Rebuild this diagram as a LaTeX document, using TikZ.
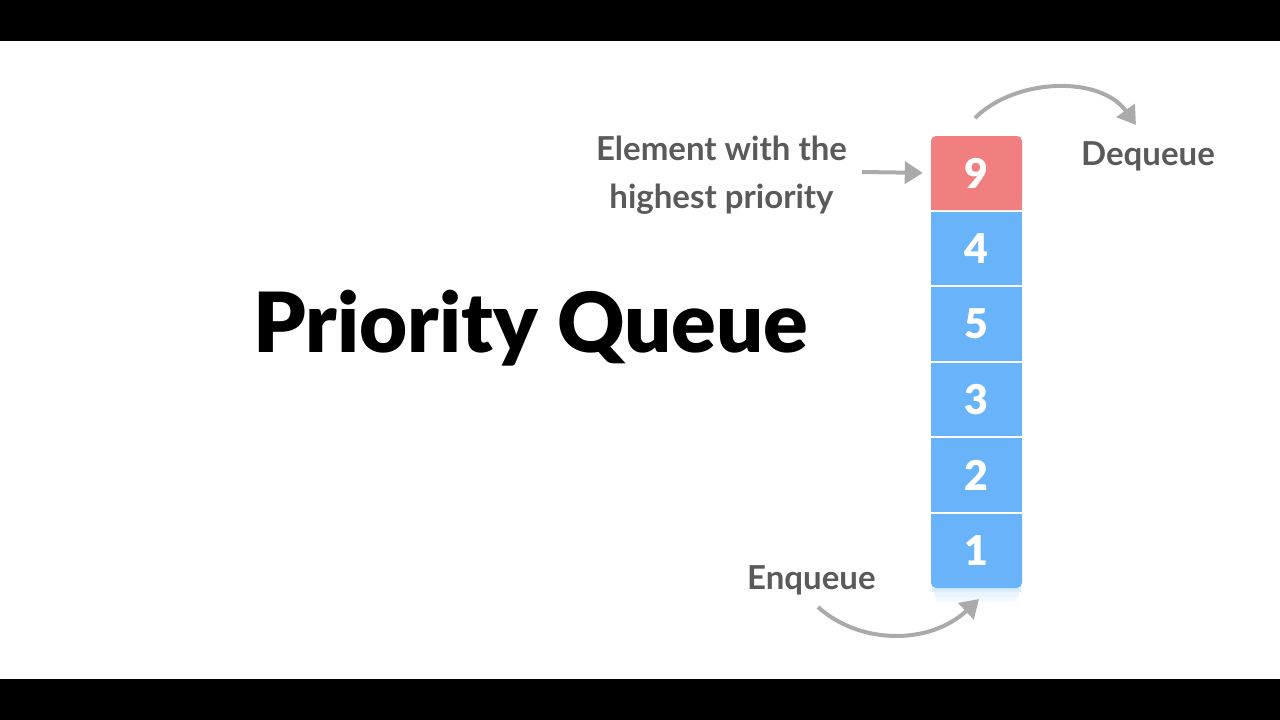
\documentclass[tikz,border=0pt]{standalone}
\usepackage{fontspec}
\setmainfont{Lato}
\newfontfamily\titlefont{Lato Black}
\usetikzlibrary{arrows.meta}
\definecolor{redbox}{RGB}{241,127,128}
\definecolor{bluebox}{RGB}{104,179,250}
\definecolor{lbl}{RGB}{90,90,90}
\definecolor{arr}{RGB}{170,170,170}
\tikzset{
  cell/.style={minimum width=91pt, minimum height=74pt, inner sep=0pt, text=white, font=\fontsize{41}{41}\titlefont},
  label/.style={text=lbl, font=\fontsize{33}{48}\selectfont\bfseries, inner sep=0pt, align=center},
  garrow/.style={draw=arr, line width=4pt, -{Triangle[length=18pt,width=22pt]}}
}
\begin{document}
\begin{tikzpicture}[x=1pt,y=-1pt]
\useasboundingbox (0,0) rectangle (1280,720);
\fill[black] (0,0) rectangle (1280,41);
\fill[black] (0,679) rectangle (1280,720);
% stack
\fill[bluebox!8] (936,588) rectangle (1017,602);
\fill[bluebox!15] (934,588) rectangle (1019,597);
\fill[bluebox!25] (932,588) rectangle (1021,592);
\fill[redbox, rounded corners=5pt] (931,136) rectangle (1022,210);
\fill[redbox] (931,180) rectangle (1022,210);
\fill[bluebox] (931,212) rectangle (1022,285);
\fill[bluebox] (931,287) rectangle (1022,361);
\fill[bluebox] (931,363) rectangle (1022,436);
\fill[bluebox] (931,438) rectangle (1022,512);
\fill[bluebox, rounded corners=5pt] (931,514) rectangle (1022,588);
\fill[bluebox] (931,514) rectangle (1022,550);
\node[cell] (c9) at (976.5,173) {9};
\node[cell] (c4) at (976.5,249) {4};
\node[cell] (c5) at (976.5,324) {5};
\node[cell] (c3) at (976.5,400) {3};
\node[cell] (c2) at (976.5,475) {2};
\node[cell] (c1) at (976.5,551) {1};
% title
\node[font=\fontsize{83}{83}\titlefont, anchor=base west, inner sep=0pt] (title) at (253,352) {Priority Queue};
% labels
\node[label, anchor=base] (elem) at (721.5,208) {Element with the\\highest priority};
\node[label, anchor=base west] (deq) at (1081,165) {Dequeue};
\node[label, anchor=base west] (enq) at (747,589) {Enqueue};
% arrows
\coordinate (ls) at (862,172);
\draw[garrow, shorten >=8pt] (ls) -- (c9.west);
\coordinate (ds) at (975,118);
\coordinate (de) at (1136,125);
\draw[garrow] (ds) .. controls (1015,78) and (1100,75) .. (de);
\coordinate (es) at (818,607);
\coordinate (ee) at (979,599);
\draw[garrow] (es) .. controls (860,645) and (930,645) .. (ee);
\end{tikzpicture}
\end{document}
